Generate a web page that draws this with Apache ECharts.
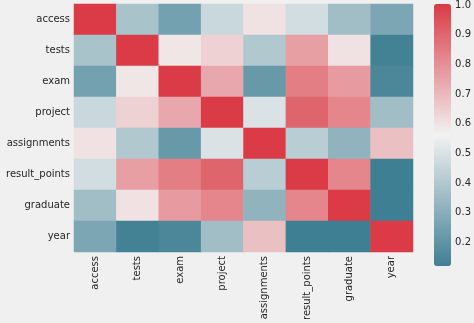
<!DOCTYPE html>
<html>
<head>
<meta charset="utf-8">
<script src="https://cdn.jsdelivr.net/npm/echarts@6/dist/echarts.min.js"></script>
<style>
html,body{margin:0;padding:0;background:#f0f0f0;}
#c{width:474px;height:323px;}
</style>
</head>
<body>
<div id="c"></div>
<script>
const categories = ['access','tests','exam','project','assignments','result_points','graduate','year'];
const rowAccess       = [1.00, 0.38, 0.25, 0.46, 0.60, 0.48, 0.36, 0.27];
const rowTests        = [0.38, 1.00, 0.59, 0.64, 0.40, 0.76, 0.60, 0.13];
const rowExam         = [0.25, 0.59, 1.00, 0.74, 0.22, 0.84, 0.77, 0.15];
const rowProject      = [0.46, 0.64, 0.74, 1.00, 0.50, 0.90, 0.82, 0.36];
const rowAssignments  = [0.60, 0.40, 0.22, 0.50, 1.00, 0.42, 0.32, 0.68];
const rowResultPoints = [0.48, 0.76, 0.84, 0.90, 0.42, 1.00, 0.82, 0.12];
const rowGraduate     = [0.36, 0.60, 0.77, 0.82, 0.32, 0.82, 1.00, 0.12];
const rowYear         = [0.27, 0.13, 0.15, 0.36, 0.68, 0.12, 0.12, 1.00];
const colorbarTicks = [0.2, 0.3, 0.4, 0.5, 0.6, 0.7, 0.8, 0.9, 1.0];
const vMin = 0.12, vMax = 1.0;

const rows = [rowAccess,rowTests,rowExam,rowProject,rowAssignments,rowResultPoints,rowGraduate,rowYear];
const data = [];
rows.forEach((r, yi) => r.forEach((v, xi) => data.push([xi, yi, v])));

const font = 'DejaVu Sans';
const chart = echarts.init(document.getElementById('c'), null, {renderer: 'canvas'});
chart.setOption({
  backgroundColor: '#f0f0f0',
  animation: false,
  grid: [
    {left: 74, right: 61, top: 4, bottom: 57},
    {left: 434, width: 17, top: 4, height: 262}
  ],
  xAxis: [
    {type: 'category', data: categories, gridIndex: 0,
     axisLine: {show: false}, axisTick: {show: false}, splitLine: {show: false},
     axisLabel: {rotate: 90, margin: 4, fontFamily: font, fontSize: 10, color: '#262626', interval: 0}},
    {type: 'value', gridIndex: 1, show: false, min: 0, max: 1}
  ],
  yAxis: [
    {type: 'category', data: categories, inverse: true, gridIndex: 0,
     axisLine: {show: false}, axisTick: {show: false}, splitLine: {show: false},
     axisLabel: {margin: 4, fontFamily: font, fontSize: 10, color: '#262626', interval: 0}},
    {type: 'value', gridIndex: 1, min: vMin, max: vMax, position: 'right',
     axisLine: {show: false}, axisTick: {show: false}, splitLine: {show: false},
     axisLabel: {customValues: colorbarTicks, margin: 5, fontFamily: font, fontSize: 10, color: '#262626',
       formatter: v => v.toFixed(1)}}
  ],
  visualMap: {
    type: 'continuous', min: vMin, max: vMax, calculable: false,
    orient: 'vertical', left: 434, top: 4, itemWidth: 17, itemHeight: 262, padding: 0,
    seriesIndex: 0,
    inRange: {color: ['#3f7f93', '#f2f2f2', '#da3b46']}
  },
  series: [{
    type: 'heatmap', data: data, xAxisIndex: 0, yAxisIndex: 0,
    itemStyle: {borderWidth: 0},
    emphasis: {disabled: true},
    progressive: 0
  }]
});
</script>
</body>
</html>
